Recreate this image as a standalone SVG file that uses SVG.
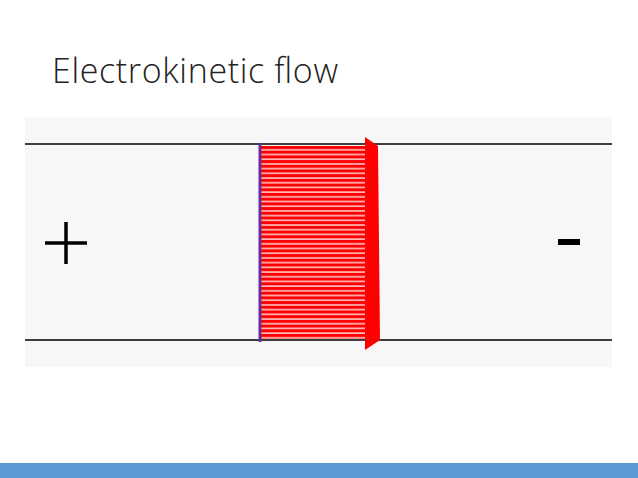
<svg xmlns="http://www.w3.org/2000/svg" width="638" height="478" viewBox="0 0 638 478">
<defs>
<pattern id="p" x="0" y="146" width="10" height="4.7" patternUnits="userSpaceOnUse"><rect width="10" height="4.7" fill="#ffb8b8"/><rect width="10" height="3" fill="#f00"/></pattern>
</defs>
<rect width="638" height="478" fill="#fff"/>
<text x="52" y="83" font-family="Open Sans, Liberation Sans, sans-serif" font-weight="300" font-size="34" textLength="286" fill="#222">Electrokinetic flow</text>
<rect x="25" y="117" width="587" height="250" fill="#f7f7f7"/>
<g id="walls" stroke="#000" stroke-width="1.5"><line x1="25" y1="144" x2="612" y2="144"/><line x1="25" y1="340" x2="612" y2="340"/></g>
<g id="flow">
<rect x="261" y="146" width="108" height="193" fill="url(#p)"/>
<polygon points="365,137 378,146 380,340 365,350" fill="#f00"/>
<line x1="260" y1="143" x2="260" y2="342" stroke="#6a2a9a" stroke-width="3"/>
</g>
<g id="plus" stroke="#000" stroke-width="3.5"><line x1="45" y1="243" x2="87" y2="243"/><line x1="66" y1="222" x2="66" y2="264"/></g>
<g id="minus"><rect x="558" y="239" width="22" height="6" fill="#000"/></g>
<rect x="0" y="463" width="638" height="15" fill="#5b9bd5"/>
</svg>
